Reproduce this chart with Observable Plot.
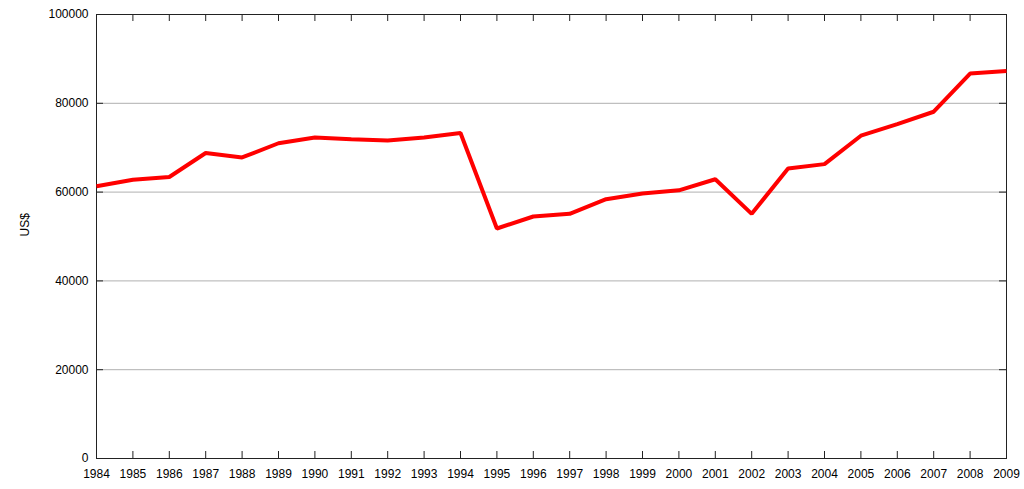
<!DOCTYPE html>
<html>
<head>
<meta charset="utf-8">
<script src="https://cdn.jsdelivr.net/npm/d3@7"></script>
<script src="https://cdn.jsdelivr.net/npm/@observablehq/plot@0.6"></script>
<style>
  html, body { margin: 0; padding: 0; background: #fff; }
</style>
</head>
<body>
<div id="chart"></div>
<script>
const years = [1984,1985,1986,1987,1988,1989,1990,1991,1992,1993,1994,1995,1996,1997,1998,1999,2000,2001,2002,2003,2004,2005,2006,2007,2008,2009];
const values = [61300,62800,63400,68800,67800,71000,72300,71900,71600,72300,73300,51800,54500,55100,58400,59700,60400,62900,55100,65300,66300,72700,75300,78100,86700,87300];
const yTicks = [0,20000,40000,60000,80000,100000];
const yLabel = "US$";

const data = years.map((y, i) => ({year: y, value: values[i]}));

const W = 1024, H = 489;
const mL = 96, mR = 18, mT = 14, mB = 31;
const innerW = W - mL - mR, innerH = H - mT - mB;
const tickLen = 7;

const chart = Plot.plot({
  width: W,
  height: H,
  marginLeft: mL,
  marginRight: mR,
  marginTop: mT,
  marginBottom: mB,
  style: {fontFamily: "'Liberation Sans', Arial, sans-serif", fontSize: "12px", color: "#000", background: "#fff"},
  x: {domain: [1984, 2009]},
  y: {domain: [0, 100000]},
  marks: [
    Plot.ruleY(yTicks, {y: d => d, stroke: "#b0b0b0", strokeWidth: 1}),
    Plot.tickX(years, {x: d => d, insetTop: innerH - tickLen, stroke: "#222"}),
    Plot.tickX(years, {x: d => d, insetBottom: innerH - tickLen, stroke: "#222"}),
    Plot.tickY(yTicks, {y: d => d, insetRight: innerW - tickLen, stroke: "#222"}),
    Plot.tickY(yTicks, {y: d => d, insetLeft: innerW - tickLen, stroke: "#222"}),
    Plot.frame({stroke: "#222", strokeWidth: 1}),
    Plot.line(data, {x: "year", y: "value", stroke: "#ff0000", strokeWidth: 4, strokeLinejoin: "miter", strokeLinecap: "butt"}),
    Plot.axisX({ticks: years, tickFormat: d => String(d), tickSize: 0, tickPadding: 11, label: null, fill: "#000"}),
    Plot.axisY({ticks: yTicks, tickFormat: d => String(d), tickSize: 0, tickPadding: 8, label: null, fill: "#000"}),
    Plot.text([yLabel], {text: d => d, frameAnchor: "left", dx: -71, rotate: -90, fill: "#000", fontSize: 12})
  ]
});
document.getElementById("chart").appendChild(chart);
</script>
</body>
</html>
